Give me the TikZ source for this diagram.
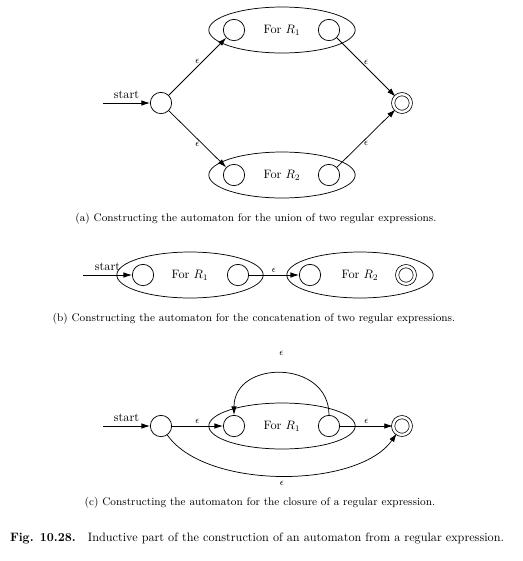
\documentclass[tikz,border=0pt]{standalone}
\usepackage{amsmath}
\usetikzlibrary{shapes.geometric,arrows.meta}

\begin{document}
\begin{tikzpicture}[x=0.82pt,y=0.82pt,line width=0.6pt,>={Latex[length=7pt,width=4.5pt]},
  stt/.style={circle,draw,minimum size=17.5pt,inner sep=0pt},
  acc/.style={stt,double,double distance=2pt,minimum size=14.5pt},
  blob/.style={ellipse,draw,minimum width=120pt,minimum height=37.7pt,inner sep=0pt},
  eps/.style={font=\footnotesize,inner sep=2pt},
  subcap/.style={font=\small}]
\useasboundingbox (0,0) rectangle (523,-561);
% (a) union
\node[blob] (boxA1) at (282,-30) {For $R_1$};
\node[blob] (boxA2) at (282,-175) {For $R_2$};
\node[stt] (a0) at (161,-103) {};
\node[acc] (af) at (402,-103) {};
\node[stt] (a1) at (234,-30) {};
\node[stt] (a2) at (329,-30) {};
\node[stt] (a3) at (234,-175) {};
\node[stt] (a4) at (329,-175) {};
\coordinate (ain) at (103,-103);
\draw[->] (ain) -- node[above]{start} (a0);
\foreach \s/\t/\p in {a0/a1/above,a2/af/above,a0/a3/below,a4/af/below} {
   \draw[->] (\s) -- node[eps,\p]{$\epsilon$} (\t);
}
\node[subcap] (capA) at (256,-219) {(a) Constructing the automaton for the union of two regular expressions.};
% (b) concatenation
\node[blob] (boxB1) at (190,-275) {For $R_1$};
\node[blob] (boxB2) at (360,-275) {For $R_2$};
\node[stt] (b0) at (143,-275) {};
\node[stt] (b1) at (238,-275) {};
\node[stt] (b2) at (310,-275) {};
\node[acc] (bf) at (406,-275) {};
\coordinate (bin) at (83,-275);
\draw[->] (bin) -- node[above]{start} (b0);
\draw[->] (b1) -- node[eps,above]{$\epsilon$} (b2);
\node[subcap] (capB) at (254,-319) {(b) Constructing the automaton for the concatenation of two regular expressions.};
% (c) closure
\node[blob] (boxC) at (282,-426) {For $R_1$};
\node[stt] (c0) at (161,-426) {};
\node[stt] (c1) at (234,-426) {};
\node[stt] (c2) at (329,-426) {};
\node[acc] (cf) at (402,-426) {};
\coordinate (cin) at (103,-426);
\draw[->] (cin) -- node[above]{start} (c0);
\draw[->] (c0) -- node[eps,above]{$\epsilon$} (c1);
\draw[->] (c2) -- node[eps,above]{$\epsilon$} (cf);
\draw[->] (c2.north) to[out=90,in=90,looseness=1.5] node[eps,above=12pt]{$\epsilon$} (c1.north);
\draw[->] (c0) to[out=-55,in=-125,looseness=0.75] node[eps,below=2pt]{$\epsilon$} (cf);
\node[subcap] (capC) at (260,-503) {(c) Constructing the automaton for the closure of a regular expression.};
\node (capFig) at (257,-538) {\textbf{Fig. 10.28.}\quad Inductive part of the construction of an automaton from a regular expression.};
\end{tikzpicture}
\end{document}
